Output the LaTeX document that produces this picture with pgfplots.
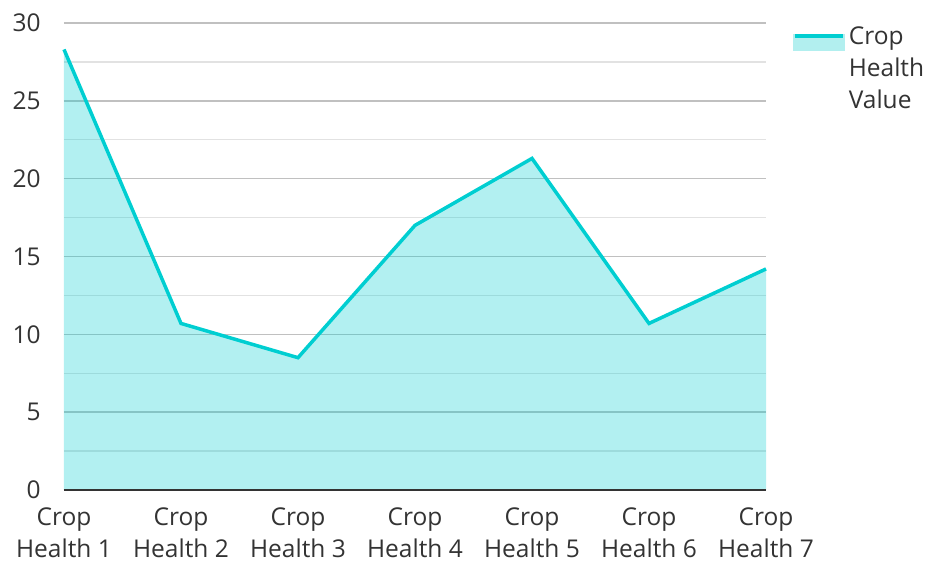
\documentclass[border=0pt]{standalone}
\usepackage{pgfplots}
\pgfplotsset{compat=1.18}
\usepackage{fontspec}
\setmainfont{Open Sans}
\definecolor{linec}{RGB}{0,206,209}
\definecolor{fillc}{RGB}{178,239,239}
\definecolor{txtc}{RGB}{51,51,51}
\definecolor{majg}{RGB}{192,192,192}
\definecolor{ming}{RGB}{226,226,226}
\begin{document}
\fontsize{24.5bp}{32bp}\selectfont
\begin{tikzpicture}
\begin{axis}[
  scale only axis,
  width=702bp, height=467bp,
  xmin=0, xmax=6, ymin=0, ymax=30,
  xtick={0,1,2,3,4,5,6},
  xticklabels={{Crop\\Health 1},{Crop\\Health 2},{Crop\\Health 3},{Crop\\Health 4},{Crop\\Health 5},{Crop\\Health 6},{Crop\\Health 7}},
  xticklabel style={align=center, text=txtc, font=\fontsize{24.5bp}{32bp}\selectfont},
  ytick={0,5,...,30},
  minor ytick={2.5,7.5,...,27.5},
  yticklabel style={text=txtc, font=\fontsize{24.5bp}{32bp}\selectfont},
  /pgf/number format/assume math mode=true,
  ymajorgrids, yminorgrids,
  major grid style={majg, line width=1.5bp},
  minor grid style={ming, line width=1.5bp},
  axis line style={draw=none},
  tick style={draw=none},
  major tick length=0pt, minor tick length=0pt,
  xtick pos=bottom,
  ytick pos=left,
  yticklabel shift=15bp,
  xticklabel shift=9bp,
  clip=false,
  legend style={draw=none, fill=none, at={(1.034,1.0)}, anchor=north west,
    font=\fontsize{24.5bp}{32bp}\selectfont, text=txtc, cells={align=left, anchor=north west}},
  legend cell align=left,
]
\addplot[draw=none, fill=linec, fill opacity=0.3, forget plot]
  coordinates {(0,28.3) (1,10.7) (2,8.5) (3,17.0) (4,21.3) (5,10.7) (6,14.2)} \closedcycle;
\addplot[linec, line width=3.5bp,
  legend image code/.code={
    \path[draw=none, fill=none] (0bp,21bp) rectangle (52bp,34bp);
    \fill[fillc] (0bp,21bp) rectangle (48bp,34bp);
    \draw[linec, line width=3.5bp] (0bp,34bp) -- (48bp,34bp);
  }]
  coordinates {(0,28.3) (1,10.7) (2,8.5) (3,17.0) (4,21.3) (5,10.7) (6,14.2)};
\addlegendentry{Crop\\Health\\Value}
\draw[txtc, line width=2bp] (axis cs:0,0) -- (axis cs:6,0);
\end{axis}
\pgfresetboundingbox
\path ([xshift=-64bp,yshift=-72bp]current axis.south west) rectangle ([xshift=163bp,yshift=23bp]current axis.north east);
\end{tikzpicture}
\end{document}
